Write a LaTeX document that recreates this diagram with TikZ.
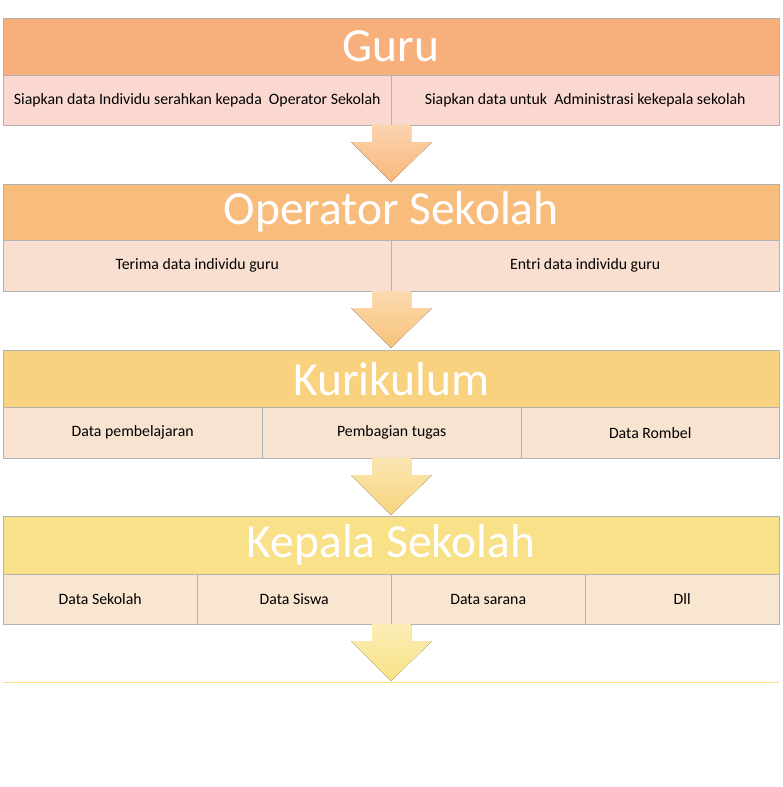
\documentclass[tikz,border=0pt]{standalone}
\usepackage{fontspec}
\setmainfont{Carlito}
\begin{document}
\begin{tikzpicture}[x=1pt,y=-1pt,
 hdr/.style={draw=white!70!black, line width=0.4pt, inner sep=0, text=white, font=\fontsize{47.5}{47.5}\selectfont},
 sub/.style={draw=white!70!black, line width=0.4pt, inner sep=0, font=\fontsize{15.8}{17}\selectfont},
 arr/.style={top color=#1!60!white, bottom color=#1, draw=none}]
\useasboundingbox (0,0) rectangle (783,787);
\definecolor{h1}{HTML}{F7B07C}\definecolor{h2}{HTML}{F8BC7C}\definecolor{h3}{HTML}{F8D27E}\definecolor{h4}{HTML}{F8E188}
\definecolor{s1}{HTML}{FAD8D0}\definecolor{s2}{HTML}{F9DFD0}\definecolor{s3}{HTML}{F8E3D0}\definecolor{s4}{HTML}{F8E6D0}
\definecolor{a1}{HTML}{F9B77A}\definecolor{a2}{HTML}{F8C27A}\definecolor{a3}{HTML}{F8D57E}\definecolor{a4}{HTML}{F8E286}
% band 1
\node[hdr, fill=h1, minimum width=776, minimum height=57, anchor=north west] (g) at (3,18) {Guru};
\node[sub, fill=s1, minimum width=388, minimum height=50, anchor=north west] (g1) at (3,75) {Siapkan data Individu serahkan kepada\ \ Operator Sekolah};
\node[sub, fill=s1, minimum width=388, minimum height=50, anchor=north west] (g2) at (391,75) {Siapkan data untuk\ \ Administrasi kekepala sekolah};
% band 2
\node[hdr, fill=h2, minimum width=776, minimum height=56, anchor=north west] (o) at (3,184) {Operator Sekolah};
\node[sub, fill=s2, minimum width=388, minimum height=51, anchor=north west] (o1) at (3,240) {Terima data individu guru};
\node[sub, fill=s2, minimum width=388, minimum height=51, anchor=north west] (o2) at (391,240) {Entri data individu guru};
% band 3
\node[hdr, fill=h3, minimum width=776, minimum height=57, anchor=north west] (k) at (3,350) {Kurikulum};
\node[sub, fill=s3, minimum width=259, minimum height=51, anchor=north west] (k1) at (3,407) {Data pembelajaran};
\node[sub, fill=s3, minimum width=259, minimum height=51, anchor=north west] (k2) at (262,407) {Pembagian tugas};
\node[sub, fill=s3, minimum width=258, minimum height=51, anchor=north west] (k3) at (521,407) {Data Rombel};
% band 4
\node[hdr, fill=h4, minimum width=776, minimum height=58, anchor=north west] (s) at (3,516) {Kepala Sekolah};
\node[sub, fill=s4, minimum width=194, minimum height=50, anchor=north west] (s1) at (3,574) {Data Sekolah};
\node[sub, fill=s4, minimum width=194, minimum height=50, anchor=north west] (s2) at (197,574) {Data Siswa};
\node[sub, fill=s4, minimum width=194, minimum height=50, anchor=north west] (s3) at (391,574) {Data sarana};
\node[sub, fill=s4, minimum width=194, minimum height=50, anchor=north west] (s4) at (585,574) {Dll};
% arrows
\foreach \y/\c in {125/a1,291/a2,458/a3,624/a4}{
 \fill[arr=\c] (372,\y) -- (411,\y) -- (411,\y+17) -- (432,\y+17) -- (391,\y+57) -- (351,\y+17) -- (372,\y+17) -- cycle;
}
\draw[h4, line width=1pt] (3,682) -- (779,682);
\end{tikzpicture}
\end{document}
